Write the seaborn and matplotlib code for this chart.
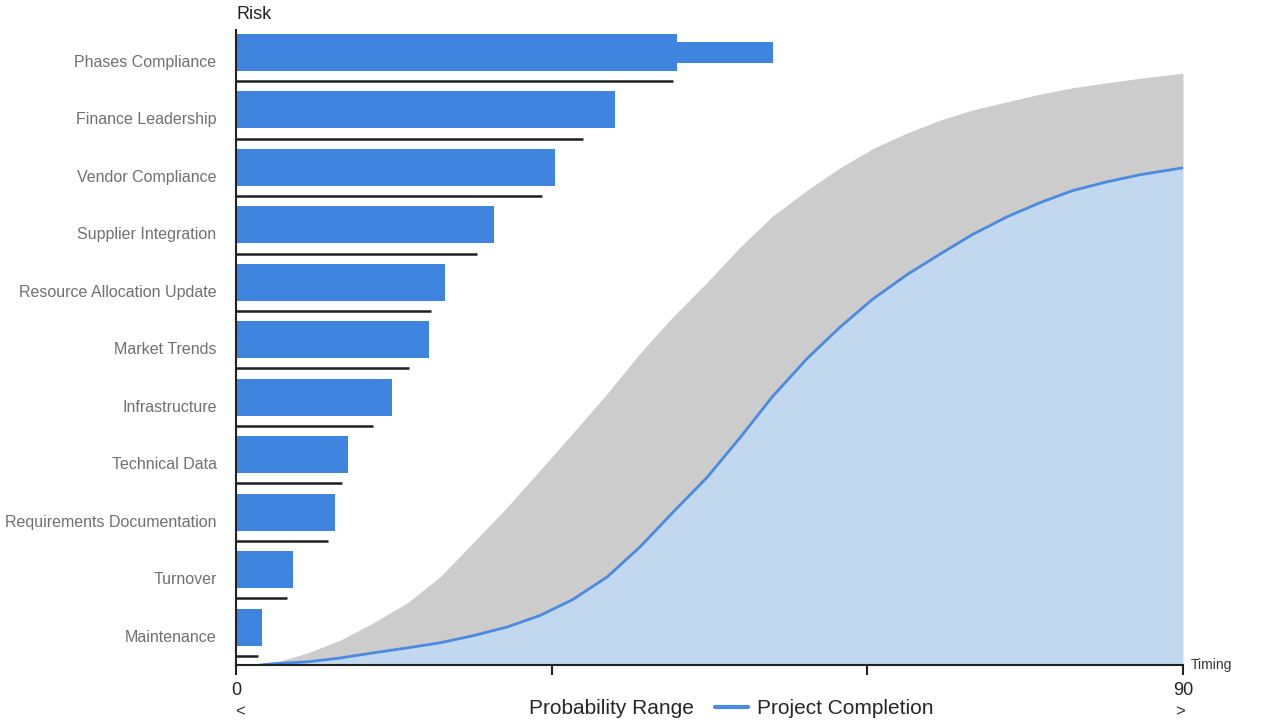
import numpy as np
import pandas as pd
import matplotlib
matplotlib.use("Agg")
import matplotlib.pyplot as plt
from matplotlib.lines import Line2D
from matplotlib.patches import Patch
import seaborn as sns

# ---------------- data ----------------
categories = [
    "Phases Compliance",
    "Finance Leadership",
    "Vendor Compliance",
    "Supplier Integration",
    "Resource Allocation Update",
    "Market Trends",
    "Infrastructure",
    "Technical Data",
    "Requirements Documentation",
    "Turnover",
    "Maintenance",
]
risk_values = [41.9, 36.0, 30.3, 24.5, 19.9, 18.3, 14.8, 10.6, 9.4, 5.4, 2.5]
baseline_values = [41.5, 33.0, 29.1, 22.9, 18.5, 16.4, 13.0, 10.1, 8.7, 4.8, 2.1]
peak_values = [51.0]  # extra peak on the first category

curve_x = [2.3, 3.5, 6.8, 9.9, 13.0, 16.3, 19.4, 22.5, 25.8, 28.9, 32.0, 35.3,
           38.4, 41.5, 44.8, 47.9, 51.0, 54.3, 57.4, 60.5, 63.8, 66.9, 70.0,
           73.3, 76.4, 79.5, 82.8, 85.9, 90.0]
prob_upper = [0, 0.3, 1.9, 3.9, 6.6, 9.8, 13.9, 19.2, 24.9, 30.7, 36.5, 42.8,
              49.1, 54.8, 60.3, 65.8, 70.7, 74.8, 78.3, 81.3, 83.8, 85.8, 87.4,
              88.7, 89.9, 90.9, 91.7, 92.4, 93.2]
completion = [0, 0.2, 0.5, 1.1, 1.9, 2.7, 3.5, 4.6, 6.0, 7.8, 10.3, 13.9,
              18.6, 24.0, 29.6, 35.8, 42.3, 48.3, 53.2, 57.6, 61.5, 64.7, 67.8,
              70.6, 72.8, 74.7, 76.1, 77.2, 78.3]

x_ticks = [0, 30, 60, 90]
x_ticklabels = ["0", "", "", "90"]

# ---------------- style ----------------
sns.set_theme(style="white")
plt.rcParams["font.family"] = ["Liberation Sans", "DejaVu Sans"]

BAR_BLUE = "#3f84df"
LINE_BLUE = "#4a8ae0"
FILL_BLUE = "#c2d8ee"
GRAY = "#cccccc"

fig = plt.figure(figsize=(12.8, 7.2), dpi=100)
ax = fig.add_axes([236 / 1280, 55 / 720, (1183 - 236) / 1280, 635 / 720])

# curves on a twin axis (percentage scale)
ax2 = ax.twinx()
ax2.set_ylim(0, 100)
ax2.fill_between(curve_x, completion, prob_upper, color=GRAY, lw=0, zorder=1)
ax2.fill_between(curve_x, 0, completion, color=FILL_BLUE, lw=0, zorder=1)
cdf = pd.DataFrame({"x": curve_x, "y": completion})
sns.lineplot(data=cdf, x="x", y="y", ax=ax2, color=LINE_BLUE, lw=2, zorder=2)
ax2.set_yticks([])
ax2.set_ylabel("")
ax2.set_xlabel("")
for s in ax2.spines.values():
    s.set_visible(False)

# bars
df = pd.DataFrame({"category": categories, "risk": risk_values})
sns.barplot(data=df, x="risk", y="category", orient="h", color=BAR_BLUE,
            width=0.645, saturation=1, linewidth=0, edgecolor=BAR_BLUE,
            ax=ax, zorder=3)
ax.barh([0], peak_values, height=0.37, color=BAR_BLUE, linewidth=0, zorder=3)
ypos = np.arange(len(categories))
ax.hlines(ypos + 0.5, 0, baseline_values, color="#1e1e1e", lw=1.8, zorder=4)

ax.set_xlim(0, 90)
ax.set_ylim(10.66, -0.39)
ax.set_yticks(ypos + 0.15)
ax.set_yticklabels(categories, fontsize=11.5, color="#707070")
ax.tick_params(axis="y", left=False, length=0, pad=14)
ax.set_xticks(x_ticks)
ax.set_xticklabels(x_ticklabels, fontsize=13, color="#222222")
ax.tick_params(axis="x", bottom=True, length=7, width=1.5, color="#222222",
               direction="out", pad=5)
ax.set_xlabel("")
ax.set_ylabel("")
ax.set_zorder(ax2.get_zorder() + 1)
ax.patch.set_visible(False)

for side in ["top", "right"]:
    ax.spines[side].set_visible(False)
for side in ["left", "bottom"]:
    ax.spines[side].set_color("#222222")
    ax.spines[side].set_linewidth(1.5)
    ax.spines[side].set_zorder(10)

ax.text(0, 1.025, "Risk", transform=ax.transAxes, fontsize=13,
        color="#222222", ha="left", va="center")
ax.text(1.008, 0.0, "Timing", transform=ax.transAxes, fontsize=10,
        color="#333333", ha="left", va="center")

handles = [Patch(facecolor="none", edgecolor="none"),
           Line2D([0], [0], color=LINE_BLUE, lw=3)]
fig.legend(handles, ["Probability Range", "Project Completion"],
           loc="center", bbox_to_anchor=(0.555, 0.016), ncol=2, frameon=False,
           fontsize=15, handlelength=1.6, columnspacing=1.0, handletextpad=0.4,
           borderaxespad=0, borderpad=0)
fig.text(240 / 1280, 0.012, "<", fontsize=12, color="#333333", ha="center", va="center")
fig.text(1180 / 1280, 0.012, ">", fontsize=12, color="#333333", ha="center", va="center")

fig.savefig("out.png", dpi=100)
